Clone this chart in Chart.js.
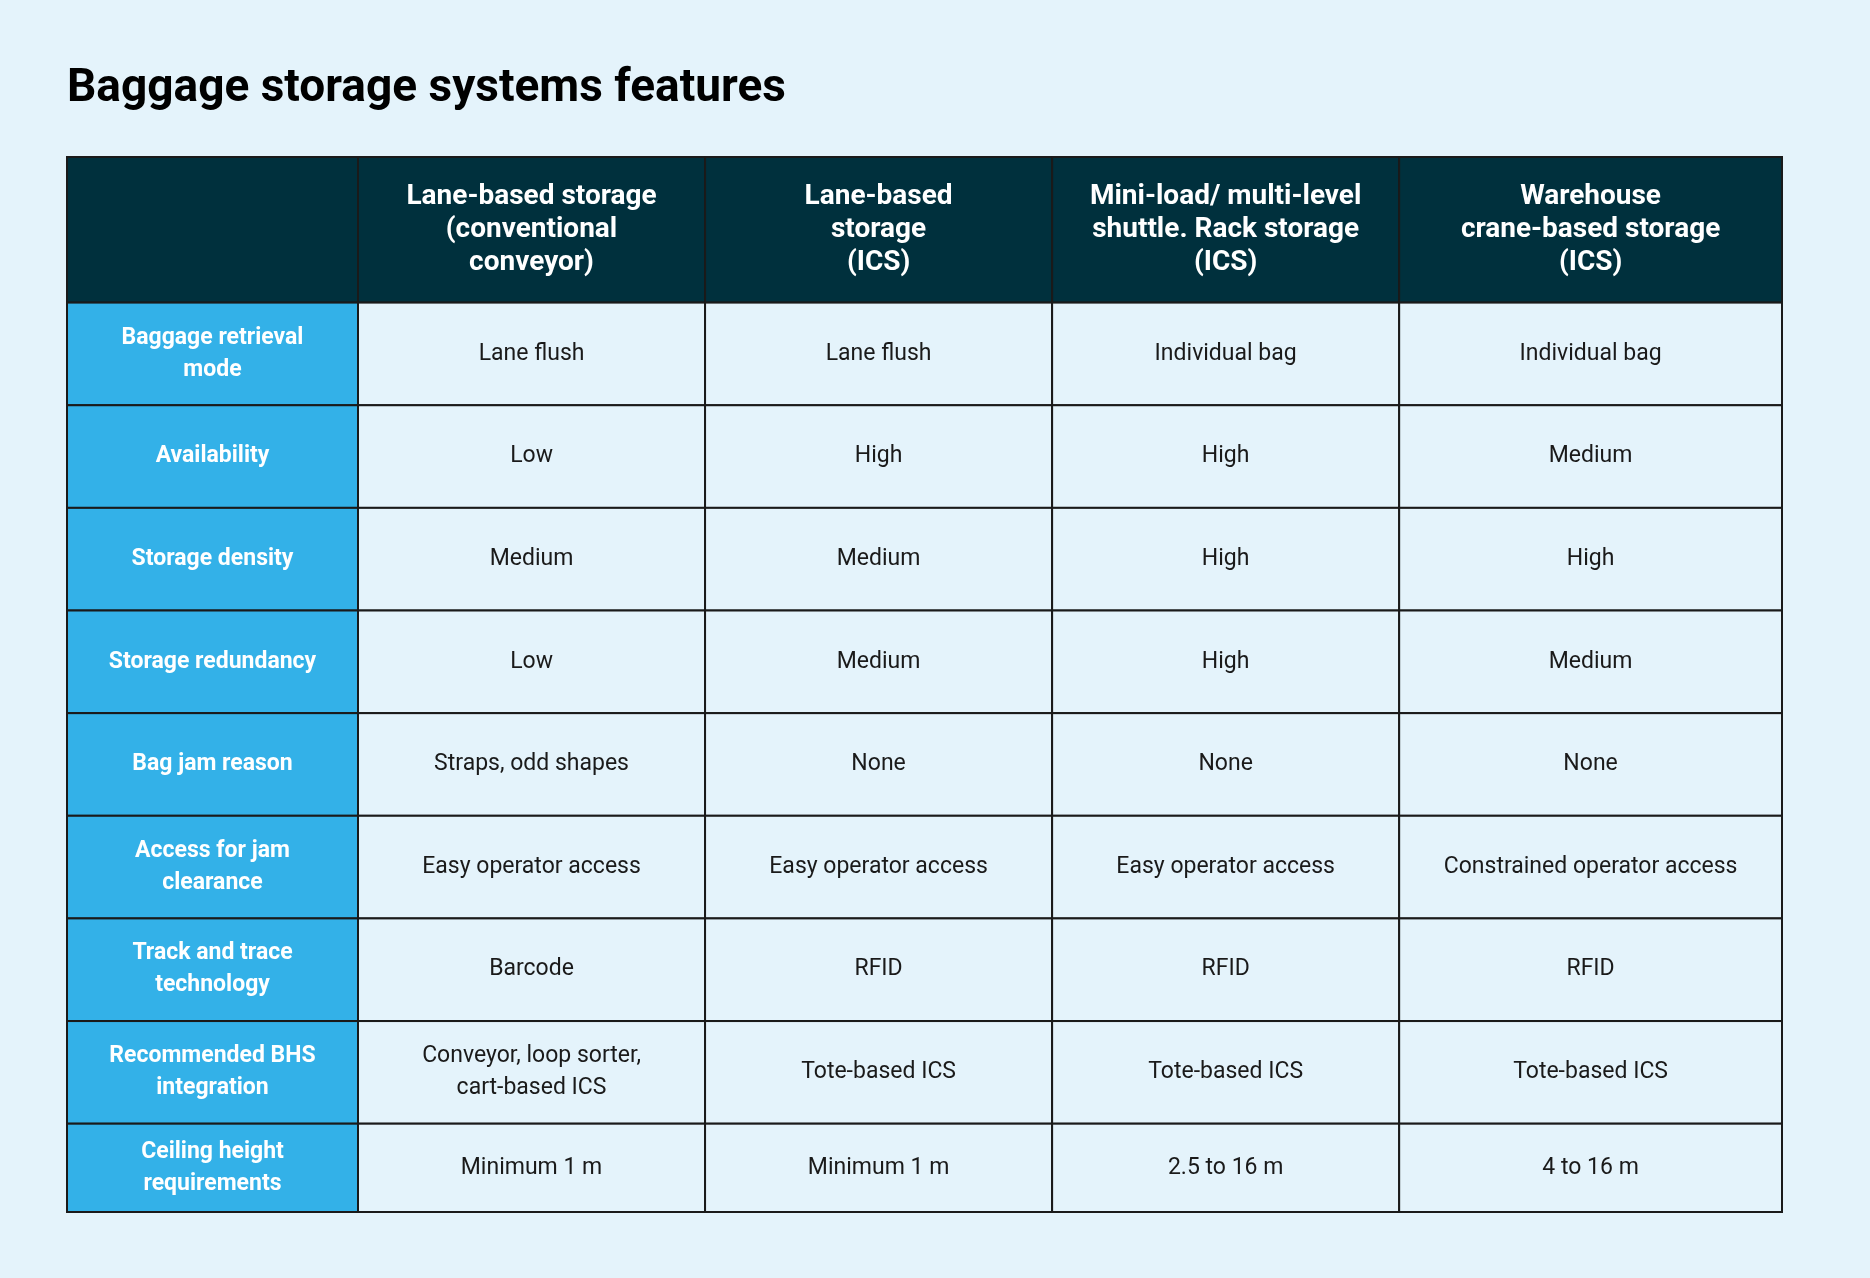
<!DOCTYPE html>
<html><head><meta charset="utf-8">
<script src="https://cdn.jsdelivr.net/npm/chart.js@4"></script>
<style>html,body{margin:0;background:#e4f3fb}#c{display:block}</style>
</head><body>
<div style="width:1870px;height:1278px"><canvas id="c"></canvas></div>
<script>
const title = "Baggage storage systems features";
const headers = ["", "Lane-based storage\n(conventional\nconveyor)", "Lane-based\nstorage\n(ICS)", "Mini-load/ multi-level\nshuttle. Rack storage\n(ICS)", "Warehouse\ncrane-based storage\n(ICS)"];
const rowLabels = ["Baggage retrieval\nmode", "Availability", "Storage density", "Storage redundancy", "Bag jam reason", "Access for jam\nclearance", "Track and trace\ntechnology", "Recommended BHS\nintegration", "Ceiling height\nrequirements"];
const laneConv = ["Lane flush", "Low", "Medium", "Low", "Straps, odd shapes", "Easy operator access", "Barcode", "Conveyor, loop sorter,\ncart-based ICS", "Minimum 1 m"];
const laneIcs = ["Lane flush", "High", "Medium", "Medium", "None", "Easy operator access", "RFID", "Tote-based ICS", "Minimum 1 m"];
const miniLoad = ["Individual bag", "High", "High", "High", "None", "Easy operator access", "RFID", "Tote-based ICS", "2.5 to 16 m"];
const warehouse = ["Individual bag", "Medium", "High", "Medium", "None", "Constrained operator access", "RFID", "Tote-based ICS", "4 to 16 m"];
// grid boundaries in table units
const colEdges = [0, 244, 535, 826, 1117, 1438];
const rowEdges = [0, 122, 208, 294, 380, 466, 552, 638, 724, 810, 884];

const columns = [rowLabels, laneConv, laneIcs, miniLoad, warehouse];

const tablePlugin = {
  id: 'table',
  afterDraw(chart) {
    const ctx = chart.ctx, x = chart.scales.x, y = chart.scales.y;
    ctx.save();
    ctx.fillStyle = '#000';
    ctx.font = 'bold 46px Roboto';
    ctx.textBaseline = 'middle';
    ctx.textAlign = 'left';
    ctx.fillText(title, 67, 89);
    const nRows = rowEdges.length - 1;
    for (let c = 0; c < 5; c++) {
      for (let r = 0; r < nRows; r++) {
        const x0 = x.getPixelForValue(colEdges[c]), x1 = x.getPixelForValue(colEdges[c + 1]);
        const y0 = y.getPixelForValue(rowEdges[r]), y1 = y.getPixelForValue(rowEdges[r + 1]);
        let bg = '#e4f3fb', color = '#1a1a1a', font = '23px Roboto', txt;
        if (r === 0) { bg = '#00303d'; color = '#fff'; font = 'bold 28px Roboto'; txt = headers[c]; }
        else if (c === 0) { bg = '#33b1e8'; color = '#fff'; font = 'bold 23px Roboto'; txt = rowLabels[r - 1]; }
        else txt = columns[c][r - 1];
        ctx.fillStyle = bg;
        ctx.fillRect(x0, y0, x1 - x0, y1 - y0);
        ctx.strokeStyle = '#1a1a1a';
        ctx.lineWidth = 2;
        ctx.strokeRect(x0, y0, x1 - x0, y1 - y0);
        const lines = txt.split('\n');
        const lh = r === 0 ? 33 : 32;
        ctx.fillStyle = color;
        ctx.font = font;
        ctx.textAlign = 'center';
        const cy = (y0 + y1) / 2 - (lines.length - 1) * lh / 2;
        lines.forEach((l, i) => ctx.fillText(l, (x0 + x1) / 2, cy + i * lh));
      }
    }
    ctx.restore();
  }
};

new Chart(document.getElementById('c'), {
  type: 'scatter',
  data: { datasets: [{ data: [] }] },
  options: {
    responsive: true, maintainAspectRatio: false, animation: false,
    layout: { padding: { left: 67, right: 88, top: 157, bottom: 66 } },
    plugins: { legend: { display: false }, tooltip: { enabled: false } },
    scales: {
      x: { type: 'linear', min: 0, max: colEdges[colEdges.length - 1], display: false },
      y: { type: 'linear', min: 0, max: rowEdges[rowEdges.length - 1], reverse: true, display: false }
    }
  },
  plugins: [tablePlugin]
});
</script>
</body></html>
